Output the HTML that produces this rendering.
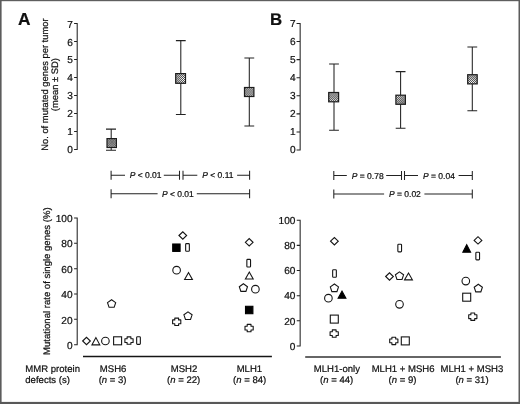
<!DOCTYPE html>
<html><head><meta charset="utf-8"><title>Figure</title>
<style>
html,body{margin:0;padding:0;background:#fff;}
body{width:520px;height:404px;overflow:hidden;position:relative;}
svg{display:block;position:absolute;left:0;top:0;}
text{font-family:"Liberation Sans",Arial,Helvetica,sans-serif;fill:#111;stroke:#111;stroke-width:0.22;text-rendering:geometricPrecision;}
.l{fill:none;stroke:#222;stroke-width:1.05;}
.m{fill:#fff;stroke:#151515;stroke-width:1.1;}
.mf{fill:#000;stroke:#000;stroke-width:1.1;}
</style></head><body>
<svg width="520" height="404" viewBox="0 0 520 404">
<rect width="520" height="404" fill="#fff"/>

<rect x="0" y="0" width="520" height="1.2" fill="#5e5e5e"/>
<rect x="0" y="0" width="1.6" height="404" fill="#5c5c5c"/>
<rect x="518.5" y="0" width="1.5" height="404" fill="#5c5c5c"/>
<rect x="0" y="401.9" width="520" height="2.1" fill="#585858"/>
<g style="filter:blur(0.3px)">
<text x="17.9" y="25.4" font-size="17.3" font-weight="bold" fill="#000">A</text>
<text x="270.0" y="25.2" font-size="16.8" font-weight="bold" fill="#000">B</text>
<path d="M77.20 23.45V149.50M74.10 23.45H77.70M74.10 41.46H77.70M74.10 59.46H77.70M74.10 77.47H77.70M74.10 95.48H77.70M74.10 113.49H77.70M74.10 131.49H77.70M74.10 149.50H77.70" class="l"/>
<text x="72.85" y="27.70" text-anchor="end" font-size="10.1">7</text>
<text x="72.85" y="45.54" text-anchor="end" font-size="10.1">6</text>
<text x="72.85" y="63.37" text-anchor="end" font-size="10.1">5</text>
<text x="72.85" y="81.21" text-anchor="end" font-size="10.1">4</text>
<text x="72.85" y="99.04" text-anchor="end" font-size="10.1">3</text>
<text x="72.85" y="116.88" text-anchor="end" font-size="10.1">2</text>
<text x="72.85" y="134.71" text-anchor="end" font-size="10.1">1</text>
<text x="72.85" y="152.55" text-anchor="end" font-size="10.1">0</text>
<text transform="translate(47.6 84.6) rotate(-90)" text-anchor="middle" font-size="9.4">No. of mutated genes per tumor</text>
<text transform="translate(58.2 84.6) rotate(-90)" text-anchor="middle" font-size="9.4">(mean ± SD)</text>
<path d="M111.20 129.10V150.30M106.00 129.10H116.00M106.00 150.30H116.00" class="l"/>
<clipPath id="c1"><rect x="107.00" y="138.60" width="9.40" height="8.90"/></clipPath>
<rect x="107.00" y="138.60" width="9.40" height="8.90" fill="#fff"/>
<path d="M72.90 147.50l17.80 -17.80M72.90 138.60l17.80 17.80M75.00 147.50l17.80 -17.80M75.00 138.60l17.80 17.80M77.10 147.50l17.80 -17.80M77.10 138.60l17.80 17.80M79.20 147.50l17.80 -17.80M79.20 138.60l17.80 17.80M81.30 147.50l17.80 -17.80M81.30 138.60l17.80 17.80M83.40 147.50l17.80 -17.80M83.40 138.60l17.80 17.80M85.50 147.50l17.80 -17.80M85.50 138.60l17.80 17.80M87.60 147.50l17.80 -17.80M87.60 138.60l17.80 17.80M89.70 147.50l17.80 -17.80M89.70 138.60l17.80 17.80M91.80 147.50l17.80 -17.80M91.80 138.60l17.80 17.80M93.90 147.50l17.80 -17.80M93.90 138.60l17.80 17.80M96.00 147.50l17.80 -17.80M96.00 138.60l17.80 17.80M98.10 147.50l17.80 -17.80M98.10 138.60l17.80 17.80M100.20 147.50l17.80 -17.80M100.20 138.60l17.80 17.80M102.30 147.50l17.80 -17.80M102.30 138.60l17.80 17.80M104.40 147.50l17.80 -17.80M104.40 138.60l17.80 17.80M106.50 147.50l17.80 -17.80M106.50 138.60l17.80 17.80M108.60 147.50l17.80 -17.80M108.60 138.60l17.80 17.80M110.70 147.50l17.80 -17.80M110.70 138.60l17.80 17.80M112.80 147.50l17.80 -17.80M112.80 138.60l17.80 17.80M114.90 147.50l17.80 -17.80M114.90 138.60l17.80 17.80M117.00 147.50l17.80 -17.80M117.00 138.60l17.80 17.80M119.10 147.50l17.80 -17.80M119.10 138.60l17.80 17.80M121.20 147.50l17.80 -17.80M121.20 138.60l17.80 17.80M123.30 147.50l17.80 -17.80M123.30 138.60l17.80 17.80M125.40 147.50l17.80 -17.80M125.40 138.60l17.80 17.80M127.50 147.50l17.80 -17.80M127.50 138.60l17.80 17.80" clip-path="url(#c1)" fill="none" stroke="#383838" stroke-width="0.72"/>
<rect x="107.00" y="138.60" width="9.40" height="8.90" fill="none" stroke="#1c1c1c" stroke-width="1.2"/>
<path d="M180.80 40.60V114.40M175.90 40.60H185.70M175.90 114.40H185.70" class="l"/>
<clipPath id="c2"><rect x="175.70" y="73.60" width="9.80" height="9.70"/></clipPath>
<rect x="175.70" y="73.60" width="9.80" height="9.70" fill="#fff"/>
<path d="M140.80 83.30l19.40 -19.40M140.80 73.60l19.40 19.40M142.90 83.30l19.40 -19.40M142.90 73.60l19.40 19.40M145.00 83.30l19.40 -19.40M145.00 73.60l19.40 19.40M147.10 83.30l19.40 -19.40M147.10 73.60l19.40 19.40M149.20 83.30l19.40 -19.40M149.20 73.60l19.40 19.40M151.30 83.30l19.40 -19.40M151.30 73.60l19.40 19.40M153.40 83.30l19.40 -19.40M153.40 73.60l19.40 19.40M155.50 83.30l19.40 -19.40M155.50 73.60l19.40 19.40M157.60 83.30l19.40 -19.40M157.60 73.60l19.40 19.40M159.70 83.30l19.40 -19.40M159.70 73.60l19.40 19.40M161.80 83.30l19.40 -19.40M161.80 73.60l19.40 19.40M163.90 83.30l19.40 -19.40M163.90 73.60l19.40 19.40M166.00 83.30l19.40 -19.40M166.00 73.60l19.40 19.40M168.10 83.30l19.40 -19.40M168.10 73.60l19.40 19.40M170.20 83.30l19.40 -19.40M170.20 73.60l19.40 19.40M172.30 83.30l19.40 -19.40M172.30 73.60l19.40 19.40M174.40 83.30l19.40 -19.40M174.40 73.60l19.40 19.40M176.50 83.30l19.40 -19.40M176.50 73.60l19.40 19.40M178.60 83.30l19.40 -19.40M178.60 73.60l19.40 19.40M180.70 83.30l19.40 -19.40M180.70 73.60l19.40 19.40M182.80 83.30l19.40 -19.40M182.80 73.60l19.40 19.40M184.90 83.30l19.40 -19.40M184.90 73.60l19.40 19.40M187.00 83.30l19.40 -19.40M187.00 73.60l19.40 19.40M189.10 83.30l19.40 -19.40M189.10 73.60l19.40 19.40M191.20 83.30l19.40 -19.40M191.20 73.60l19.40 19.40M193.30 83.30l19.40 -19.40M193.30 73.60l19.40 19.40M195.40 83.30l19.40 -19.40M195.40 73.60l19.40 19.40M197.50 83.30l19.40 -19.40M197.50 73.60l19.40 19.40" clip-path="url(#c2)" fill="none" stroke="#383838" stroke-width="0.72"/>
<rect x="175.70" y="73.60" width="9.80" height="9.70" fill="none" stroke="#1c1c1c" stroke-width="1.2"/>
<path d="M249.30 57.90V125.90M244.40 57.90H254.20M244.40 125.90H254.20" class="l"/>
<clipPath id="c3"><rect x="244.50" y="87.50" width="9.40" height="9.00"/></clipPath>
<rect x="244.50" y="87.50" width="9.40" height="9.00" fill="#fff"/>
<path d="M210.30 96.50l18.00 -18.00M210.30 87.50l18.00 18.00M212.40 96.50l18.00 -18.00M212.40 87.50l18.00 18.00M214.50 96.50l18.00 -18.00M214.50 87.50l18.00 18.00M216.60 96.50l18.00 -18.00M216.60 87.50l18.00 18.00M218.70 96.50l18.00 -18.00M218.70 87.50l18.00 18.00M220.80 96.50l18.00 -18.00M220.80 87.50l18.00 18.00M222.90 96.50l18.00 -18.00M222.90 87.50l18.00 18.00M225.00 96.50l18.00 -18.00M225.00 87.50l18.00 18.00M227.10 96.50l18.00 -18.00M227.10 87.50l18.00 18.00M229.20 96.50l18.00 -18.00M229.20 87.50l18.00 18.00M231.30 96.50l18.00 -18.00M231.30 87.50l18.00 18.00M233.40 96.50l18.00 -18.00M233.40 87.50l18.00 18.00M235.50 96.50l18.00 -18.00M235.50 87.50l18.00 18.00M237.60 96.50l18.00 -18.00M237.60 87.50l18.00 18.00M239.70 96.50l18.00 -18.00M239.70 87.50l18.00 18.00M241.80 96.50l18.00 -18.00M241.80 87.50l18.00 18.00M243.90 96.50l18.00 -18.00M243.90 87.50l18.00 18.00M246.00 96.50l18.00 -18.00M246.00 87.50l18.00 18.00M248.10 96.50l18.00 -18.00M248.10 87.50l18.00 18.00M250.20 96.50l18.00 -18.00M250.20 87.50l18.00 18.00M252.30 96.50l18.00 -18.00M252.30 87.50l18.00 18.00M254.40 96.50l18.00 -18.00M254.40 87.50l18.00 18.00M256.50 96.50l18.00 -18.00M256.50 87.50l18.00 18.00M258.60 96.50l18.00 -18.00M258.60 87.50l18.00 18.00M260.70 96.50l18.00 -18.00M260.70 87.50l18.00 18.00M262.80 96.50l18.00 -18.00M262.80 87.50l18.00 18.00M264.90 96.50l18.00 -18.00M264.90 87.50l18.00 18.00" clip-path="url(#c3)" fill="none" stroke="#383838" stroke-width="0.72"/>
<rect x="244.50" y="87.50" width="9.40" height="9.00" fill="none" stroke="#1c1c1c" stroke-width="1.2"/>
<path d="M111.10 170.80V179.80M179.50 170.80V179.80M111.10 175.30H125.00M163.80 175.30H179.50" class="l"/>
<text x="145.60" y="178.40" text-anchor="middle" font-size="8.5"><tspan font-style="italic">P</tspan> &lt; 0.01</text>
<path d="M183.00 170.80V179.80M249.60 170.80V179.80M183.00 175.30H197.30M237.10 175.30H249.60" class="l"/>
<text x="217.85" y="178.40" text-anchor="middle" font-size="8.5"><tspan font-style="italic">P</tspan> &lt; 0.11</text>
<path d="M111.10 189.30V198.30M249.60 189.30V198.30M111.10 193.80H157.60M196.80 193.80H249.60" class="l"/>
<text x="177.85" y="196.90" text-anchor="middle" font-size="8.5"><tspan font-style="italic">P</tspan> &lt; 0.01</text>
<path d="M300.15 23.50V150.00M296.55 23.50H300.65M296.55 41.57H300.65M296.55 59.64H300.65M296.55 77.71H300.65M296.55 95.79H300.65M296.55 113.86H300.65M296.55 131.93H300.65M296.55 150.00H300.65" class="l"/>
<text x="295.55" y="27.00" text-anchor="end" font-size="10.1">7</text>
<text x="295.55" y="44.94" text-anchor="end" font-size="10.1">6</text>
<text x="295.55" y="62.89" text-anchor="end" font-size="10.1">5</text>
<text x="295.55" y="80.83" text-anchor="end" font-size="10.1">4</text>
<text x="295.55" y="98.77" text-anchor="end" font-size="10.1">3</text>
<text x="295.55" y="116.71" text-anchor="end" font-size="10.1">2</text>
<text x="295.55" y="134.66" text-anchor="end" font-size="10.1">1</text>
<text x="295.55" y="152.60" text-anchor="end" font-size="10.1">0</text>
<path d="M334.00 63.90V130.20M329.10 63.90H338.90M329.10 130.20H338.90" class="l"/>
<clipPath id="c4"><rect x="328.70" y="92.50" width="9.90" height="9.30"/></clipPath>
<rect x="328.70" y="92.50" width="9.90" height="9.30" fill="#fff"/>
<path d="M294.20 101.80l18.60 -18.60M294.20 92.50l18.60 18.60M296.30 101.80l18.60 -18.60M296.30 92.50l18.60 18.60M298.40 101.80l18.60 -18.60M298.40 92.50l18.60 18.60M300.50 101.80l18.60 -18.60M300.50 92.50l18.60 18.60M302.60 101.80l18.60 -18.60M302.60 92.50l18.60 18.60M304.70 101.80l18.60 -18.60M304.70 92.50l18.60 18.60M306.80 101.80l18.60 -18.60M306.80 92.50l18.60 18.60M308.90 101.80l18.60 -18.60M308.90 92.50l18.60 18.60M311.00 101.80l18.60 -18.60M311.00 92.50l18.60 18.60M313.10 101.80l18.60 -18.60M313.10 92.50l18.60 18.60M315.20 101.80l18.60 -18.60M315.20 92.50l18.60 18.60M317.30 101.80l18.60 -18.60M317.30 92.50l18.60 18.60M319.40 101.80l18.60 -18.60M319.40 92.50l18.60 18.60M321.50 101.80l18.60 -18.60M321.50 92.50l18.60 18.60M323.60 101.80l18.60 -18.60M323.60 92.50l18.60 18.60M325.70 101.80l18.60 -18.60M325.70 92.50l18.60 18.60M327.80 101.80l18.60 -18.60M327.80 92.50l18.60 18.60M329.90 101.80l18.60 -18.60M329.90 92.50l18.60 18.60M332.00 101.80l18.60 -18.60M332.00 92.50l18.60 18.60M334.10 101.80l18.60 -18.60M334.10 92.50l18.60 18.60M336.20 101.80l18.60 -18.60M336.20 92.50l18.60 18.60M338.30 101.80l18.60 -18.60M338.30 92.50l18.60 18.60M340.40 101.80l18.60 -18.60M340.40 92.50l18.60 18.60M342.50 101.80l18.60 -18.60M342.50 92.50l18.60 18.60M344.60 101.80l18.60 -18.60M344.60 92.50l18.60 18.60M346.70 101.80l18.60 -18.60M346.70 92.50l18.60 18.60M348.80 101.80l18.60 -18.60M348.80 92.50l18.60 18.60" clip-path="url(#c4)" fill="none" stroke="#383838" stroke-width="0.72"/>
<rect x="328.70" y="92.50" width="9.90" height="9.30" fill="none" stroke="#1c1c1c" stroke-width="1.2"/>
<path d="M400.60 71.60V128.20M395.70 71.60H405.50M395.70 128.20H405.50" class="l"/>
<clipPath id="c5"><rect x="395.90" y="95.20" width="9.50" height="9.10"/></clipPath>
<rect x="395.90" y="95.20" width="9.50" height="9.10" fill="#fff"/>
<path d="M361.60 104.30l18.20 -18.20M361.60 95.20l18.20 18.20M363.70 104.30l18.20 -18.20M363.70 95.20l18.20 18.20M365.80 104.30l18.20 -18.20M365.80 95.20l18.20 18.20M367.90 104.30l18.20 -18.20M367.90 95.20l18.20 18.20M370.00 104.30l18.20 -18.20M370.00 95.20l18.20 18.20M372.10 104.30l18.20 -18.20M372.10 95.20l18.20 18.20M374.20 104.30l18.20 -18.20M374.20 95.20l18.20 18.20M376.30 104.30l18.20 -18.20M376.30 95.20l18.20 18.20M378.40 104.30l18.20 -18.20M378.40 95.20l18.20 18.20M380.50 104.30l18.20 -18.20M380.50 95.20l18.20 18.20M382.60 104.30l18.20 -18.20M382.60 95.20l18.20 18.20M384.70 104.30l18.20 -18.20M384.70 95.20l18.20 18.20M386.80 104.30l18.20 -18.20M386.80 95.20l18.20 18.20M388.90 104.30l18.20 -18.20M388.90 95.20l18.20 18.20M391.00 104.30l18.20 -18.20M391.00 95.20l18.20 18.20M393.10 104.30l18.20 -18.20M393.10 95.20l18.20 18.20M395.20 104.30l18.20 -18.20M395.20 95.20l18.20 18.20M397.30 104.30l18.20 -18.20M397.30 95.20l18.20 18.20M399.40 104.30l18.20 -18.20M399.40 95.20l18.20 18.20M401.50 104.30l18.20 -18.20M401.50 95.20l18.20 18.20M403.60 104.30l18.20 -18.20M403.60 95.20l18.20 18.20M405.70 104.30l18.20 -18.20M405.70 95.20l18.20 18.20M407.80 104.30l18.20 -18.20M407.80 95.20l18.20 18.20M409.90 104.30l18.20 -18.20M409.90 95.20l18.20 18.20M412.00 104.30l18.20 -18.20M412.00 95.20l18.20 18.20M414.10 104.30l18.20 -18.20M414.10 95.20l18.20 18.20M416.20 104.30l18.20 -18.20M416.20 95.20l18.20 18.20" clip-path="url(#c5)" fill="none" stroke="#383838" stroke-width="0.72"/>
<rect x="395.90" y="95.20" width="9.50" height="9.10" fill="none" stroke="#1c1c1c" stroke-width="1.2"/>
<path d="M472.30 46.90V110.70M467.40 46.90H477.20M467.40 110.70H477.20" class="l"/>
<clipPath id="c6"><rect x="467.70" y="74.70" width="9.50" height="9.20"/></clipPath>
<rect x="467.70" y="74.70" width="9.50" height="9.20" fill="#fff"/>
<path d="M433.30 83.90l18.40 -18.40M433.30 74.70l18.40 18.40M435.40 83.90l18.40 -18.40M435.40 74.70l18.40 18.40M437.50 83.90l18.40 -18.40M437.50 74.70l18.40 18.40M439.60 83.90l18.40 -18.40M439.60 74.70l18.40 18.40M441.70 83.90l18.40 -18.40M441.70 74.70l18.40 18.40M443.80 83.90l18.40 -18.40M443.80 74.70l18.40 18.40M445.90 83.90l18.40 -18.40M445.90 74.70l18.40 18.40M448.00 83.90l18.40 -18.40M448.00 74.70l18.40 18.40M450.10 83.90l18.40 -18.40M450.10 74.70l18.40 18.40M452.20 83.90l18.40 -18.40M452.20 74.70l18.40 18.40M454.30 83.90l18.40 -18.40M454.30 74.70l18.40 18.40M456.40 83.90l18.40 -18.40M456.40 74.70l18.40 18.40M458.50 83.90l18.40 -18.40M458.50 74.70l18.40 18.40M460.60 83.90l18.40 -18.40M460.60 74.70l18.40 18.40M462.70 83.90l18.40 -18.40M462.70 74.70l18.40 18.40M464.80 83.90l18.40 -18.40M464.80 74.70l18.40 18.40M466.90 83.90l18.40 -18.40M466.90 74.70l18.40 18.40M469.00 83.90l18.40 -18.40M469.00 74.70l18.40 18.40M471.10 83.90l18.40 -18.40M471.10 74.70l18.40 18.40M473.20 83.90l18.40 -18.40M473.20 74.70l18.40 18.40M475.30 83.90l18.40 -18.40M475.30 74.70l18.40 18.40M477.40 83.90l18.40 -18.40M477.40 74.70l18.40 18.40M479.50 83.90l18.40 -18.40M479.50 74.70l18.40 18.40M481.60 83.90l18.40 -18.40M481.60 74.70l18.40 18.40M483.70 83.90l18.40 -18.40M483.70 74.70l18.40 18.40M485.80 83.90l18.40 -18.40M485.80 74.70l18.40 18.40M487.90 83.90l18.40 -18.40M487.90 74.70l18.40 18.40" clip-path="url(#c6)" fill="none" stroke="#383838" stroke-width="0.72"/>
<rect x="467.70" y="74.70" width="9.50" height="9.20" fill="none" stroke="#1c1c1c" stroke-width="1.2"/>
<path d="M333.80 170.90V179.90M401.50 170.90V179.90M333.80 175.40H346.80M386.20 175.40H401.50" class="l"/>
<text x="367.70" y="178.50" text-anchor="middle" font-size="8.5"><tspan font-style="italic">P</tspan> = 0.78</text>
<path d="M404.50 170.90V179.90M472.30 170.90V179.90M404.50 175.40H418.00M458.60 175.40H472.30" class="l"/>
<text x="438.95" y="178.50" text-anchor="middle" font-size="8.5"><tspan font-style="italic">P</tspan> = 0.04</text>
<path d="M333.80 189.40V198.40M472.30 189.40V198.40M333.80 193.90H384.10M424.40 193.90H472.30" class="l"/>
<text x="404.90" y="197.00" text-anchor="middle" font-size="8.5"><tspan font-style="italic">P</tspan> = 0.02</text>
<path d="M77.20 218.00V344.65M74.10 218.00H77.70M74.10 243.33H77.70M74.10 268.66H77.70M74.10 293.99H77.70M74.10 319.32H77.70M74.10 344.65H77.70" class="l"/>
<text x="72.50" y="222.10" text-anchor="end" font-size="10.1">100</text>
<text x="72.50" y="247.46" text-anchor="end" font-size="10.1">80</text>
<text x="72.50" y="272.82" text-anchor="end" font-size="10.1">60</text>
<text x="72.50" y="298.18" text-anchor="end" font-size="10.1">40</text>
<text x="72.50" y="323.54" text-anchor="end" font-size="10.1">20</text>
<text x="72.50" y="348.90" text-anchor="end" font-size="10.1">0</text>
<text transform="translate(49.7 281.2) rotate(-90)" text-anchor="middle" font-size="9.55">Mutational rate of single genes (%)</text>
<path d="M83.0 356.5H271.9" class="l" style="stroke-width:1.3;stroke:#151515"/>
<path d="M111.60 299.69L115.69 302.60L114.13 307.31L109.07 307.31L107.51 302.60Z" class="m"/>
<path d="M82.65 341.00L86.50 337.30L90.35 341.00L86.50 344.70Z" class="m"/>
<path d="M92.00 344.85L95.90 337.60L99.80 344.85Z" class="m"/>
<circle cx="105.40" cy="341.00" r="3.8" class="m"/>
<rect x="113.60" y="336.80" width="8.0" height="8.0" class="m"/>
<path d="M127.10 336.90L130.90 336.90L130.90 338.70L133.10 338.70L133.10 342.50L130.90 342.50L130.90 344.30L127.10 344.30L127.10 342.50L124.90 342.50L124.90 338.70L127.10 338.70Z" class="m" stroke-linejoin="round"/>
<rect x="136.65" y="336.80" width="3.7" height="7.6" rx="0.8" class="m"/>
<path d="M178.95 235.50L182.80 231.80L186.65 235.50L182.80 239.20Z" class="m"/>
<rect x="172.70" y="244.00" width="7.4" height="7.4" class="mf"/>
<rect x="185.65" y="243.60" width="3.7" height="7.6" rx="0.8" class="m"/>
<circle cx="176.60" cy="270.20" r="3.8" class="m"/>
<path d="M184.60 279.55L188.50 272.60L192.40 279.55Z" class="m"/>
<path d="M174.80 318.10L178.60 318.10L178.60 319.90L180.80 319.90L180.80 323.70L178.60 323.70L178.60 325.50L174.80 325.50L174.80 323.70L172.60 323.70L172.60 319.90L174.80 319.90Z" class="m" stroke-linejoin="round"/>
<path d="M188.00 311.89L192.09 314.80L190.53 319.51L185.47 319.51L183.91 314.80Z" class="m"/>
<path d="M245.35 242.30L249.20 238.60L253.05 242.30L249.20 246.00Z" class="m"/>
<rect x="246.85" y="259.40" width="3.7" height="7.6" rx="0.8" class="m"/>
<path d="M245.40 279.05L249.30 272.10L253.20 279.05Z" class="m"/>
<path d="M243.40 283.79L247.49 286.70L245.93 291.41L240.87 291.41L239.31 286.70Z" class="m"/>
<circle cx="255.40" cy="289.20" r="3.8" class="m"/>
<rect x="245.50" y="306.30" width="7.4" height="7.4" class="mf"/>
<path d="M247.20 324.40L251.00 324.40L251.00 326.20L253.20 326.20L253.20 330.00L251.00 330.00L251.00 331.80L247.20 331.80L247.20 330.00L245.00 330.00L245.00 326.20L247.20 326.20Z" class="m" stroke-linejoin="round"/>
<text x="25.3" y="372.0" font-size="9.55">MMR protein</text>
<text x="25.3" y="383.1" font-size="9.55">defects (s)</text>
<text x="113.10" y="372.00" text-anchor="middle" font-size="9.55">MSH6</text>
<text x="112.60" y="383.10" text-anchor="middle" font-size="9.55">(<tspan font-style="italic">n</tspan> = 3)</text>
<text x="184.00" y="372.00" text-anchor="middle" font-size="9.55">MSH2</text>
<text x="183.70" y="383.10" text-anchor="middle" font-size="9.55">(<tspan font-style="italic">n</tspan> = 22)</text>
<text x="249.40" y="372.00" text-anchor="middle" font-size="9.55">MLH1</text>
<text x="249.70" y="383.10" text-anchor="middle" font-size="9.55">(<tspan font-style="italic">n</tspan> = 84)</text>
<path d="M300.15 220.20V346.00M296.75 220.20H300.65M296.75 245.36H300.65M296.75 270.52H300.65M296.75 295.68H300.65M296.75 320.84H300.65M296.75 346.00H300.65" class="l"/>
<text x="295.45" y="223.65" text-anchor="end" font-size="10.1">100</text>
<text x="295.45" y="248.90" text-anchor="end" font-size="10.1">80</text>
<text x="295.45" y="274.15" text-anchor="end" font-size="10.1">60</text>
<text x="295.45" y="299.40" text-anchor="end" font-size="10.1">40</text>
<text x="295.45" y="324.65" text-anchor="end" font-size="10.1">20</text>
<text x="295.45" y="349.90" text-anchor="end" font-size="10.1">0</text>
<path d="M305.2 356.95H500.9" class="l" style="stroke-width:1.55;stroke:#333"/>
<path d="M330.55 241.20L334.40 237.50L338.25 241.20L334.40 244.90Z" class="m"/>
<rect x="332.65" y="269.70" width="3.7" height="7.6" rx="0.8" class="m"/>
<path d="M334.40 283.99L338.49 286.90L336.93 291.61L331.87 291.61L330.31 286.90Z" class="m"/>
<path d="M338.10 298.25L342.00 291.20L345.90 298.25Z" class="mf"/>
<circle cx="328.40" cy="298.20" r="3.8" class="m"/>
<rect x="330.30" y="315.10" width="8.0" height="8.0" class="m"/>
<path d="M332.30 329.90L336.10 329.90L336.10 331.70L338.30 331.70L338.30 335.50L336.10 335.50L336.10 337.30L332.30 337.30L332.30 335.50L330.10 335.50L330.10 331.70L332.30 331.70Z" class="m" stroke-linejoin="round"/>
<rect x="397.85" y="244.30" width="3.7" height="7.6" rx="0.8" class="m"/>
<path d="M385.65 276.50L389.50 272.80L393.35 276.50L389.50 280.20Z" class="m"/>
<path d="M399.50 271.89L403.59 274.80L402.03 279.51L396.97 279.51L395.41 274.80Z" class="m"/>
<path d="M404.60 279.85L408.50 273.00L412.40 279.85Z" class="m"/>
<circle cx="399.50" cy="304.30" r="3.8" class="m"/>
<path d="M391.90 337.20L395.70 337.20L395.70 339.00L397.90 339.00L397.90 342.80L395.70 342.80L395.70 344.60L391.90 344.60L391.90 342.80L389.70 342.80L389.70 339.00L391.90 339.00Z" class="m" stroke-linejoin="round"/>
<rect x="401.30" y="336.90" width="8.0" height="8.0" class="m"/>
<path d="M474.15 240.40L478.00 236.70L481.85 240.40L478.00 244.10Z" class="m"/>
<path d="M462.80 252.25L466.70 244.80L470.60 252.25Z" class="mf"/>
<rect x="475.85" y="252.30" width="3.7" height="7.6" rx="0.8" class="m"/>
<circle cx="465.80" cy="281.10" r="3.8" class="m"/>
<path d="M478.30 284.29L482.39 287.20L480.83 291.91L475.77 291.91L474.21 287.20Z" class="m"/>
<rect x="462.70" y="293.20" width="8.0" height="8.0" class="m"/>
<path d="M470.90 313.00L474.70 313.00L474.70 314.80L476.90 314.80L476.90 318.60L474.70 318.60L474.70 320.40L470.90 320.40L470.90 318.60L468.70 318.60L468.70 314.80L470.90 314.80Z" class="m" stroke-linejoin="round"/>
<text x="336.90" y="372.00" text-anchor="middle" font-size="9.55">MLH1-only</text>
<text x="336.70" y="383.10" text-anchor="middle" font-size="9.55">(<tspan font-style="italic">n</tspan> = 44)</text>
<text x="403.10" y="372.00" text-anchor="middle" font-size="9.55">MLH1 + MSH6</text>
<text x="402.50" y="383.10" text-anchor="middle" font-size="9.55">(<tspan font-style="italic">n</tspan> = 9)</text>
<text x="471.90" y="372.00" text-anchor="middle" font-size="9.55">MLH1 + MSH3</text>
<text x="472.00" y="383.10" text-anchor="middle" font-size="9.55">(<tspan font-style="italic">n</tspan> = 31)</text>
</g>
</svg></body></html>
